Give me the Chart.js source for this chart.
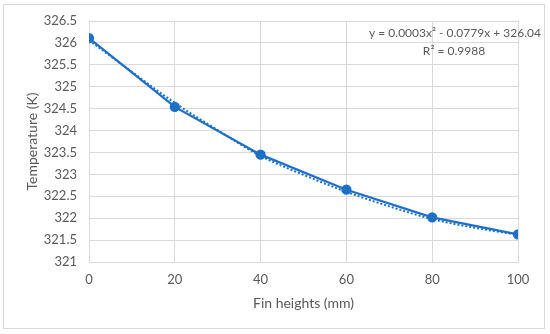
<!DOCTYPE html>
<html>
<head>
<meta charset="utf-8">
<script src="https://cdn.jsdelivr.net/npm/chart.js@4.4.0/dist/chart.umd.min.js"></script>
<style>
  html, body { margin: 0; padding: 0; background: #fff; }
  #wrap { width: 550px; height: 334px; }
</style>
</head>
<body>
<div id="wrap"><canvas id="grafico" width="550" height="334"></canvas></div>
<script>
// datos
const fin_heights = [0, 20, 40, 60, 80, 100];
const temperaturas = [326.11, 324.54, 323.45, 322.65, 322.02, 321.63];

// linea de tendencia (polinomica), leida sobre la curva punteada
const trend_x = [0, 10, 20, 30, 40, 50, 60, 70, 80, 90, 100];
const trend_y = [326.06, 325.34, 324.63, 324.01, 323.42, 322.99, 322.6, 322.27, 321.98, 321.78, 321.62];

const trend_label = ['y = 0.0003x² - 0.0779x + 326.04', 'R² = 0.9988'];
const x_title = 'Fin heights (mm)';
const y_title = 'Temperature (K)';

const AZUL = '#1e6fc6';
const GRIS = '#595959';
const FUENTE = 'Lato, "Open Sans", sans-serif';

const canvas = document.getElementById('grafico');

const marco = {
    id: 'marco',
    beforeDraw(chart) {
        const ctx = chart.ctx;
        ctx.save();
        ctx.fillStyle = '#fff';
        ctx.fillRect(0, 0, chart.width, chart.height);
        ctx.strokeStyle = '#d9d9d9';
        ctx.lineWidth = 1;
        ctx.strokeRect(3.5, 4.5, 541, 324);
        ctx.restore();
    },
    afterDraw(chart) {
        const ctx = chart.ctx;
        ctx.save();
        ctx.fillStyle = GRIS;
        ctx.font = '12px ' + FUENTE;
        ctx.textAlign = 'center';
        ctx.textBaseline = 'middle';
        ctx.fillText(trend_label[0], 455, 33);
        ctx.fillText(trend_label[1], 454, 51);
        ctx.restore();
    }
};

new Chart(canvas, {
    type: 'line',
    data: {
        datasets: [{
            label: 'Temperature',
            data: fin_heights.map((x, i) => ({x: x, y: temperaturas[i]})),
            borderColor: AZUL,
            backgroundColor: AZUL,
            borderWidth: 2.25,
            pointRadius: 4,
            pointHoverRadius: 4,
            tension: 0
        }, {
            label: 'Poly. (Temperature)',
            data: trend_x.map((x, i) => ({x: x, y: trend_y[i]})),
            borderColor: AZUL,
            borderWidth: 2,
            borderDash: [2, 2],
            pointRadius: 0,
            cubicInterpolationMode: 'monotone'
        }]
    },
    options: {
        responsive: false,
        animation: false,
        layout: { padding: { top: 21, right: 32, bottom: 0, left: 0 } },
        plugins: {
            legend: { display: false },
            tooltip: { enabled: false }
        },
        scales: {
            x: {
                type: 'linear',
                min: 0,
                max: 100,
                afterFit: (s) => { s.height = 72; },
                ticks: { stepSize: 20, color: GRIS, font: { family: FUENTE, size: 13 }, padding: 10 },
                grid: { color: '#d9d9d9', drawTicks: false },
                border: { color: '#d9d9d9' },
                title: { display: true, text: x_title, color: GRIS, font: { family: FUENTE, size: 14 }, padding: { top: 0, bottom: 22 } }
            },
            y: {
                min: 321,
                max: 326.5,
                afterFit: (s) => { s.width = 89; },
                ticks: { stepSize: 0.5, color: GRIS, font: { family: FUENTE, size: 13 }, padding: 12, callback: (v) => String(v) },
                grid: { color: '#d9d9d9', drawTicks: false },
                border: { color: '#d9d9d9' },
                title: { display: true, text: y_title, color: GRIS, font: { family: FUENTE, size: 14 }, padding: { top: 24, bottom: 0 } }
            }
        }
    },
    plugins: [marco]
});
</script>
</body>
</html>
